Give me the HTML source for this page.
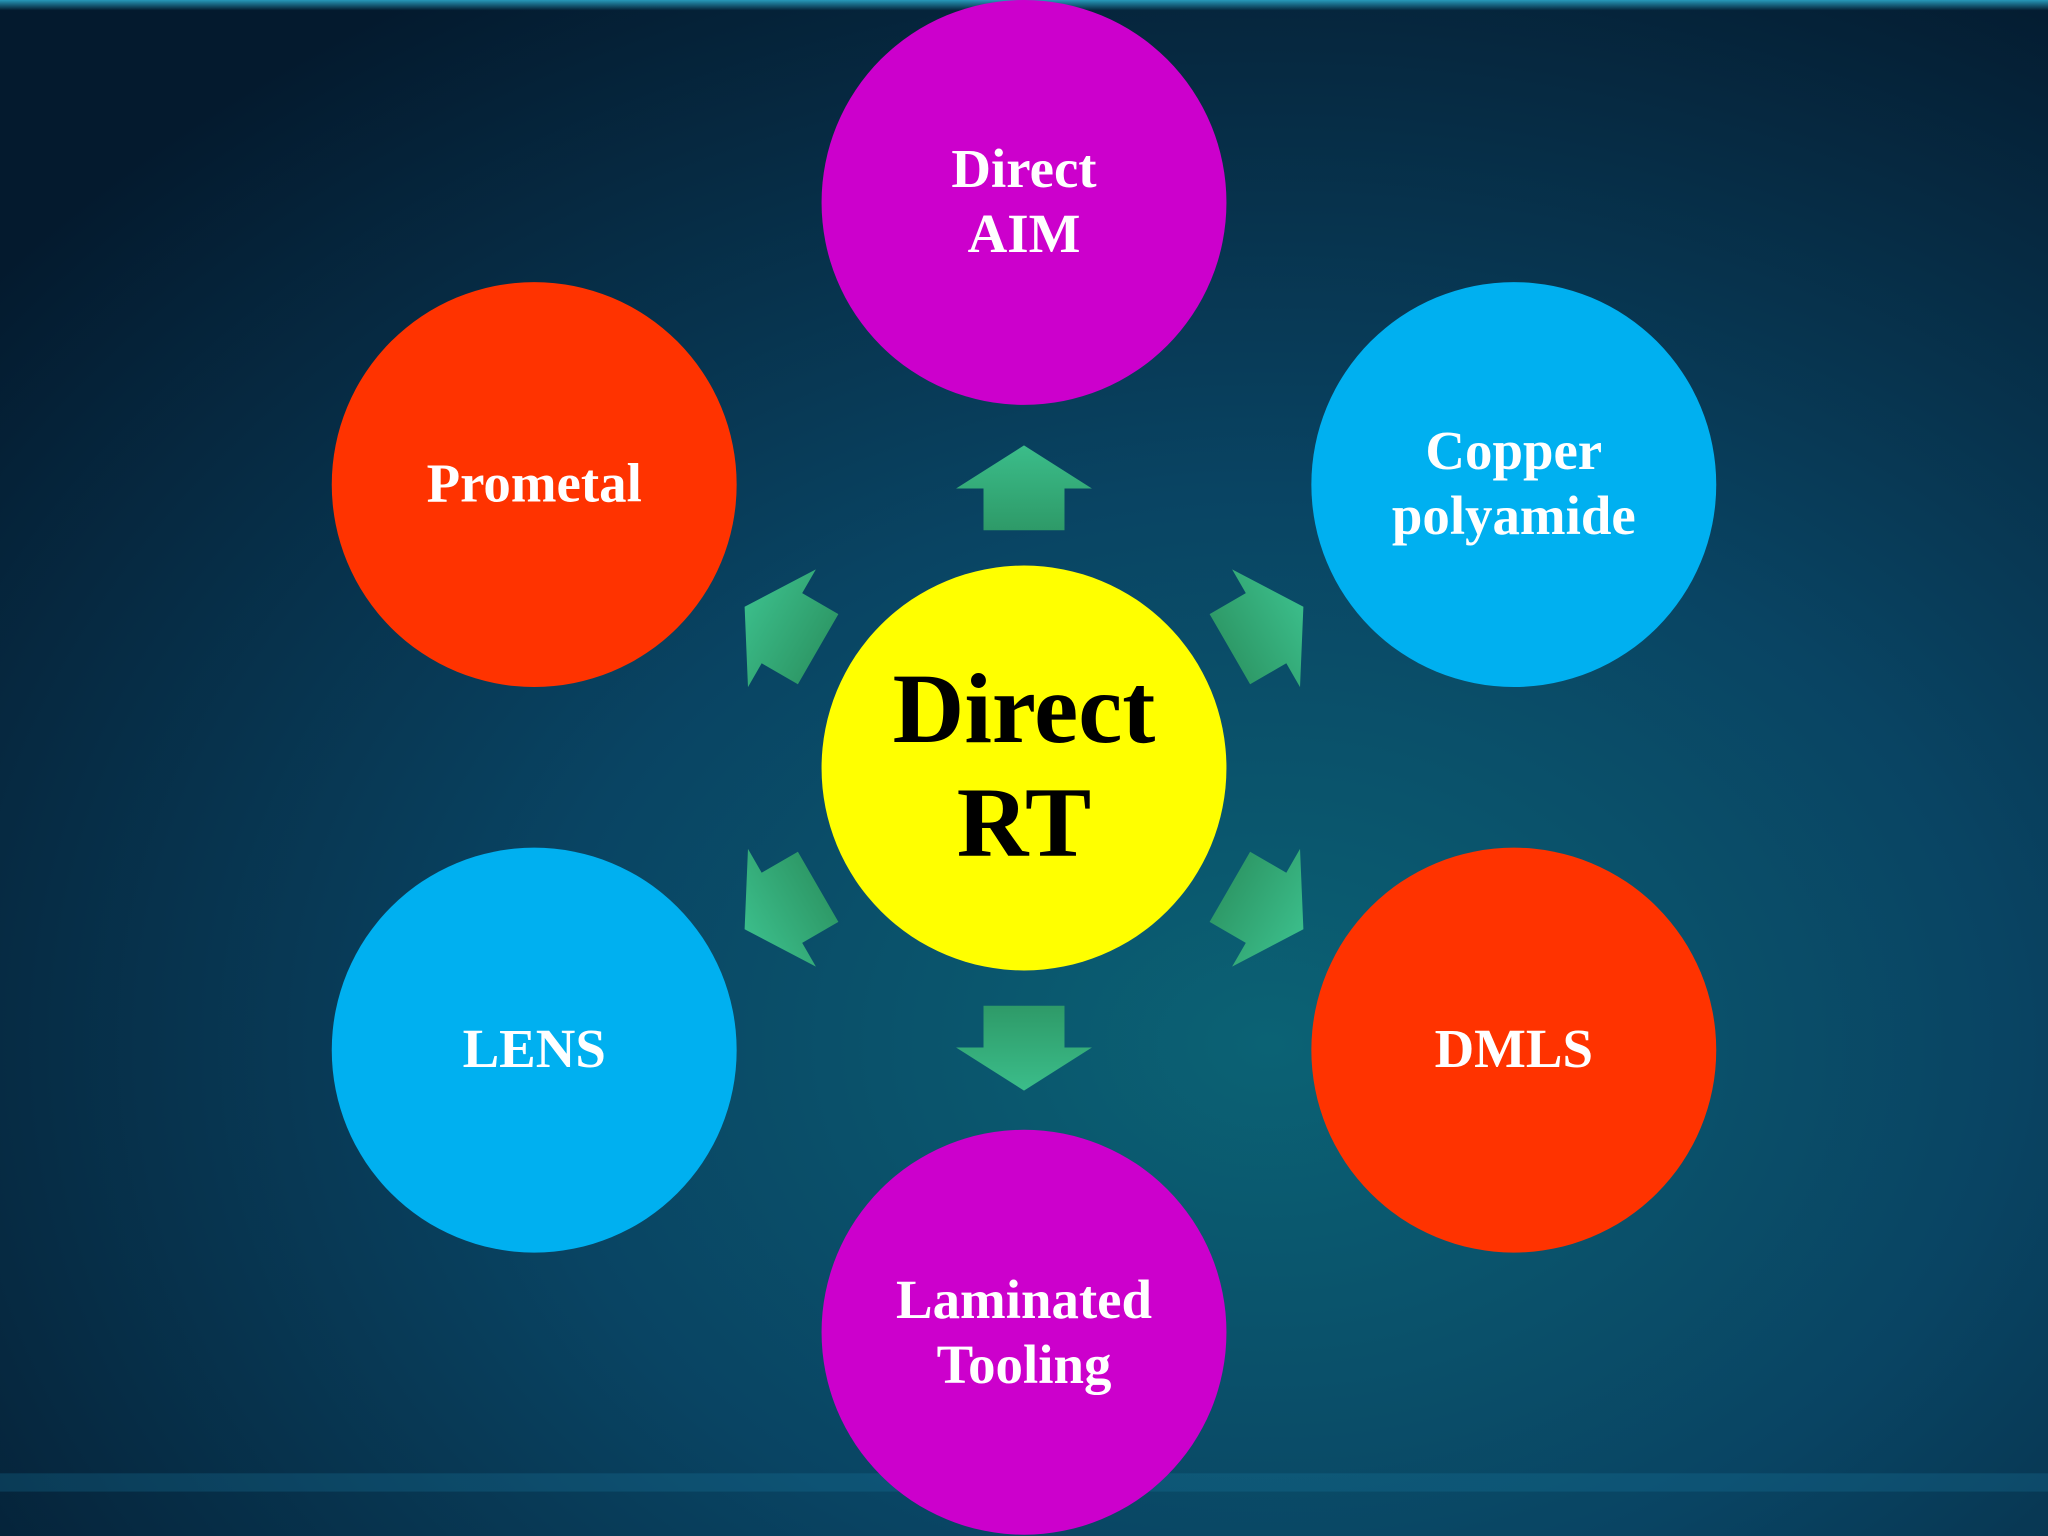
<!DOCTYPE html>
<html><head><meta charset="utf-8"><style>
html,body{margin:0;padding:0;width:2048px;height:1536px;overflow:hidden;background:#06243d}
svg{display:block}
text{font-family:"Liberation Serif",serif;font-weight:bold;text-anchor:middle}
</style></head><body>
<svg width="2048" height="1536" viewBox="0 0 1568 1176" xmlns="http://www.w3.org/2000/svg">
<defs>
<radialGradient id="bg" cx="0.62" cy="0.68" r="0.8">
<stop offset="0" stop-color="#0b6274"/>
<stop offset="0.45" stop-color="#094463"/>
<stop offset="1" stop-color="#041a2e"/>
</radialGradient>
<linearGradient id="ar" x1="0" y1="0" x2="0" y2="1">
<stop offset="0" stop-color="#3bbd8a"/>
<stop offset="1" stop-color="#2e9a68"/>
</linearGradient>
<linearGradient id="topband" x1="0" y1="0" x2="0" y2="1">
<stop offset="0" stop-color="#2aa6c8" stop-opacity="0.9"/>
<stop offset="1" stop-color="#2aa6c8" stop-opacity="0"/>
</linearGradient>
</defs>
<rect width="1568" height="1176" fill="url(#bg)"/>
<rect width="1568" height="8" fill="url(#topband)"/>
<rect y="1128" width="1568" height="14" fill="#1a7fa8" opacity="0.25"/>
<g id="arrows" fill="url(#ar)">
<polygon id="a0" points="784,341 836,374 815,374 815,406 753,406 753,374 732,374"/>
<use href="#a0" transform="rotate(60 784 588)"/>
<use href="#a0" transform="rotate(120 784 588)"/>
<use href="#a0" transform="rotate(180 784 588)"/>
<use href="#a0" transform="rotate(240 784 588)"/>
<use href="#a0" transform="rotate(300 784 588)"/>
</g>
<circle cx="784" cy="155" r="155" fill="#cc00cc"/>
<circle cx="409" cy="371" r="155" fill="#ff3300"/>
<circle cx="1159" cy="371" r="155" fill="#00b0f0"/>
<circle cx="409" cy="804" r="155" fill="#00b0f0"/>
<circle cx="1159" cy="804" r="155" fill="#ff3300"/>
<circle cx="784" cy="1020" r="155" fill="#cc00cc"/>
<circle cx="784" cy="588" r="155" fill="#ffff00"/>
<g fill="#ffffff" font-size="42">
<text x="784" y="143">Direct</text>
<text x="784" y="193">AIM</text>
<text x="409" y="384">Prometal</text>
<text x="1159" y="359">Copper</text>
<text x="1159" y="409">polyamide</text>
<text x="409" y="817">LENS</text>
<text x="1159" y="817">DMLS</text>
<text x="784" y="1009">Laminated</text>
<text x="784" y="1059">Tooling</text>
</g>
<g fill="#000000" font-size="76">
<text x="784" y="568">Direct</text>
<text x="784" y="655">RT</text>
</g>
</svg>
</body></html>
